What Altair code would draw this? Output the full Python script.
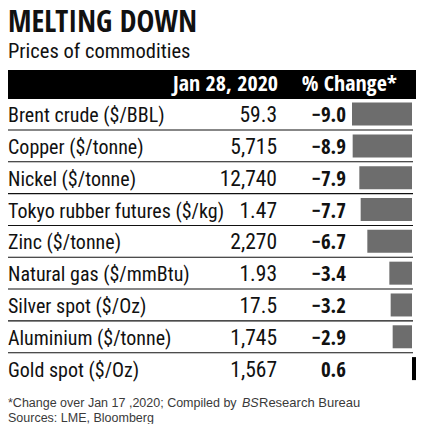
import altair as alt
import pandas as pd

# ---- data ----
names = ["Brent crude  ($/BBL)", "Copper  ($/tonne)", "Nickel ($/tonne)",
         "Tokyo rubber futures ($/kg)", "Zinc ($/tonne)", "Natural gas ($/mmBtu)",
         "Silver spot ($/Oz)", "Aluminium ($/tonne)", "Gold spot ($/Oz)"]
prices = ["59.3", "5,715", "12,740", "1.47", "2,270", "1.93", "17.5", "1,745", "1,567"]
changes = [-9.0, -8.9, -7.9, -7.7, -6.7, -3.4, -3.2, -2.9, 0.6]

title_text = "MELTING DOWN"
subtitle_text = "Prices of commodities"
header_cols = ["Jan 28, 2020", "% Change*"]
foot_parts = ["*Change over Jan 17 ,2020; Compiled by", "BS", "Research Bureau"]
source_text = "Sources: LME, Bloomberg"

BOLD = "Open Sans Condensed, Roboto Condensed, sans-serif"
BODY = "Roboto Condensed, DejaVu Sans Condensed, sans-serif"
FOOT = "Liberation Sans, Arial, sans-serif"

df = pd.DataFrame({"name": names, "price": prices, "change": changes})
df["order"] = range(len(df))
one = pd.DataFrame({"k": [0]})

yscale = alt.Scale(domain=names, range=[90.2, 376.5], paddingInner=0, paddingOuter=0)
xscale = alt.Scale(domain=[min(changes), max(changes)], range=[344, 408])
ytext = alt.Y("name:N", scale=yscale, axis=None, bandPosition=0.755)

base = alt.Chart(df)

labels = base.mark_text(align="left", baseline="alphabetic", font=BODY,
                        fontSize=20, color="#111111").encode(
    x=alt.value(0), y=ytext, text="name:N")

price_txt = base.mark_text(align="right", baseline="alphabetic", font=BODY,
                           fontSize=21.5, color="#111111").encode(
    x=alt.value(269), y=ytext, text="price:N")

change_txt = base.mark_text(align="right", baseline="alphabetic", font=BOLD,
                            fontSize=21, fontWeight="bold", color="#111111").encode(
    x=alt.value(338), y=ytext, text=alt.Text("change:Q", format=".1f"))

bars = base.mark_bar(size=23).encode(
    x=alt.X("change:Q", scale=xscale, axis=None, stack=None),
    x2=alt.datum(0),
    y=alt.Y("name:N", scale=yscale, axis=None),
    color=alt.condition(alt.datum.change > 0, alt.value("#000000"), alt.value("#6d6d6d")))

rules = base.transform_filter(alt.datum.order < len(names) - 1).mark_rule(
    color="#111111", strokeWidth=1.1).encode(
    x=alt.value(0), x2=alt.value(405),
    y=alt.Y("name:N", scale=yscale, axis=None, bandPosition=1))

header_bg = alt.Chart(one).mark_rect(color="#000000").encode(
    x=alt.value(0), x2=alt.value(408), y=alt.value(62), y2=alt.value(91))

h1 = alt.Chart(one).mark_text(align="right", baseline="alphabetic", font=BOLD,
                              fontSize=22, fontWeight="bold", color="white",
                              text=header_cols[0]).encode(x=alt.value(270), y=alt.value(83))
h2 = alt.Chart(one).mark_text(align="right", baseline="alphabetic", font=BOLD,
                              fontSize=22, fontWeight="bold", color="white",
                              text=header_cols[1]).encode(x=alt.value(389), y=alt.value(83))

title = alt.Chart(one).mark_text(align="left", baseline="alphabetic", font=BOLD,
                                 fontSize=30, fontWeight="bold", color="#111111",
                                 text=title_text).encode(x=alt.value(0), y=alt.value(24))
subtitle = alt.Chart(one).mark_text(align="left", baseline="alphabetic", font=BODY,
                                    fontSize=20.5, color="#111111",
                                    text=subtitle_text).encode(x=alt.value(0), y=alt.value(50))

f1 = alt.Chart(one).mark_text(align="left", baseline="alphabetic", font=FOOT,
                              fontSize=12.5, color="#3a3a3a",
                              text=foot_parts[0]).encode(x=alt.value(0), y=alt.value(399))
f2 = alt.Chart(one).mark_text(align="left", baseline="alphabetic", font=FOOT,
                              fontSize=12.5, fontStyle="italic", color="#3a3a3a",
                              text=foot_parts[1]).encode(x=alt.value(234), y=alt.value(399))
f3 = alt.Chart(one).mark_text(align="left", baseline="alphabetic", font=FOOT,
                              fontSize=13, color="#3a3a3a",
                              text=foot_parts[2]).encode(x=alt.value(251), y=alt.value(399))
f4 = alt.Chart(one).mark_text(align="left", baseline="alphabetic", font=FOOT,
                              fontSize=12.5, color="#3a3a3a",
                              text=source_text).encode(x=alt.value(0), y=alt.value(414))

chart = alt.layer(
    header_bg, h1, h2, title, subtitle,
    rules, bars, labels, price_txt, change_txt,
    f1, f2, f3, f4
).properties(
    width=408, height=416,
    autosize=alt.AutoSizeParams(type="none"),
    padding={"left": 0, "right": 0, "top": 0, "bottom": 0},
    background="white"
).configure_view(strokeWidth=0)

chart.save("out.html", embed_options={"renderer": "svg", "actions": False})
